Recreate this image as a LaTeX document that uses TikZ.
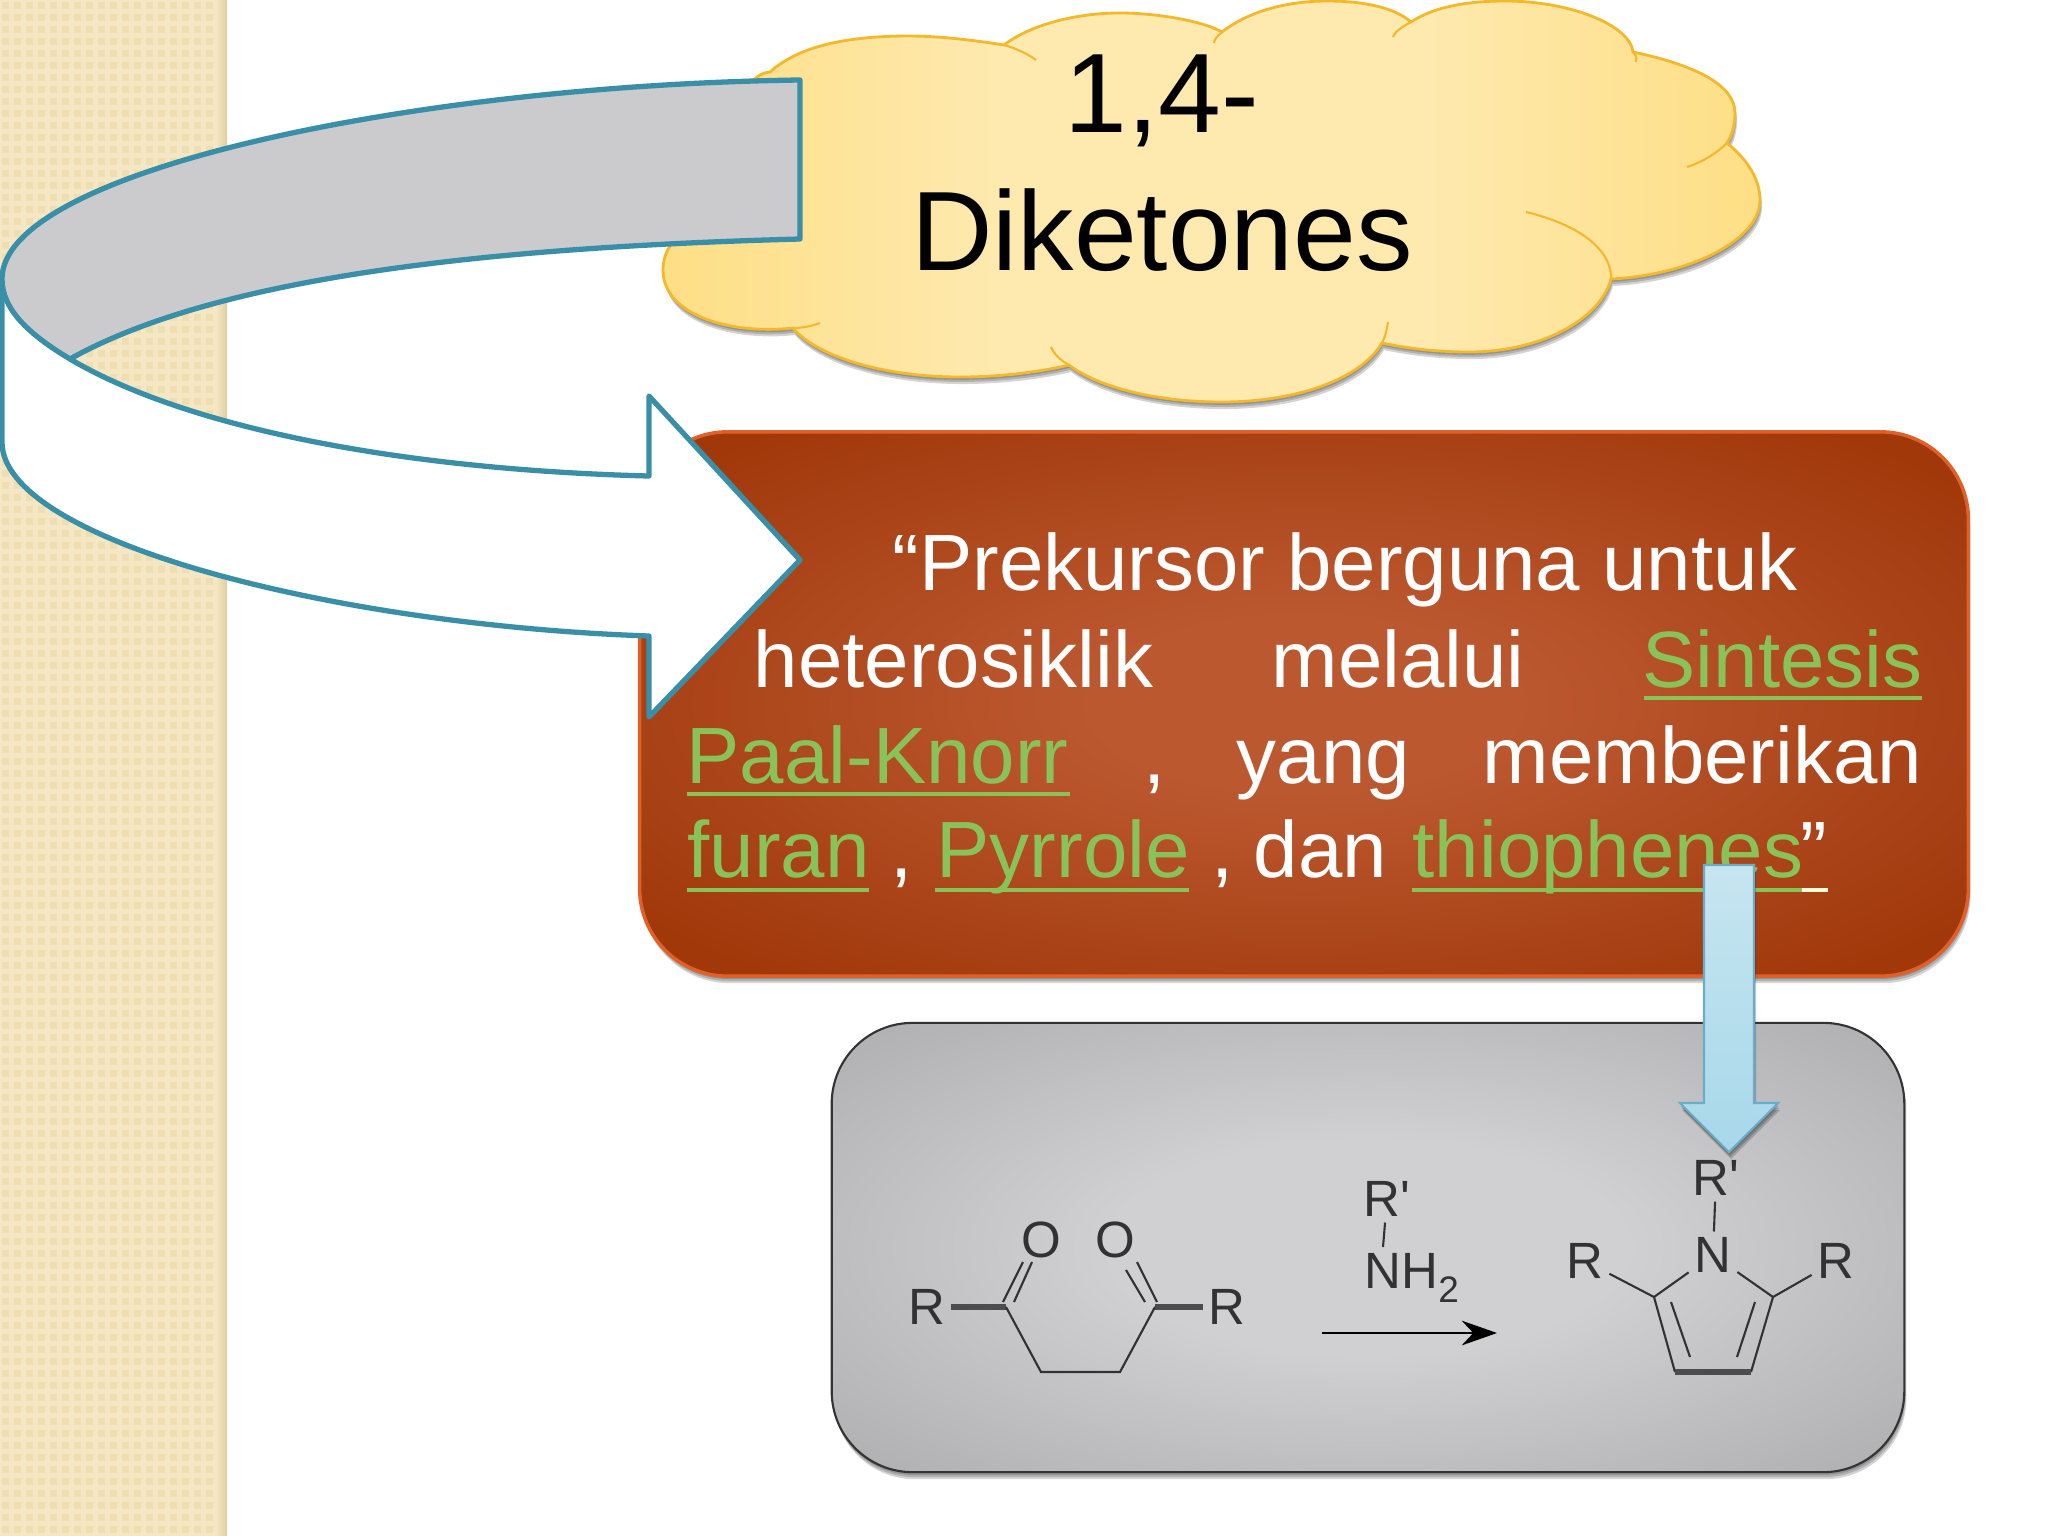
\documentclass[tikz,border=0pt]{standalone}
\usepackage{fontspec}
\setmainfont{Liberation Sans}
\usetikzlibrary{arrows.meta, shadows}
\definecolor{sidebase}{RGB}{245, 231, 195}
\definecolor{sidedot}{RGB}{238, 222, 178}
\definecolor{sideedge}{RGB}{222, 206, 162}
\definecolor{cloudedge}{RGB}{254, 223, 133}
\definecolor{cloudmid}{RGB}{254, 233, 174}
\definecolor{cloudline}{RGB}{244, 184, 44}
\definecolor{ribbon}{RGB}{58, 143, 168}
\definecolor{ribbongray}{RGB}{203, 203, 205}
\definecolor{redmid}{RGB}{188, 88, 48}
\definecolor{redout}{RGB}{160, 56, 10}
\definecolor{redline}{RGB}{226, 96, 40}
\definecolor{linkgreen}{RGB}{138, 194, 90}
\definecolor{graymid}{RGB}{208, 207, 210}
\definecolor{grayout}{RGB}{178, 177, 180}
\definecolor{bluetop}{RGB}{198, 229, 240}
\definecolor{bluelow}{RGB}{168, 216, 234}
\definecolor{blueline}{RGB}{104, 174, 200}
\definecolor{inkgray}{RGB}{50, 50, 50}
\pgfdeclarehorizontalshading{cloudglow}{100bp}{
  color(0bp)=(cloudedge); color(25bp)=(cloudedge); color(40bp)=(cloudmid); color(60bp)=(cloudmid); color(75bp)=(cloudedge); color(100bp)=(cloudedge)}
\pgfdeclareradialshading{redglow}{\pgfpoint{0bp}{0bp}}{
  color(0bp)=(redmid); color(8bp)=(redmid); color(32bp)=(redout); color(50bp)=(redout)}
\pgfdeclareradialshading{grayglow}{\pgfpoint{0bp}{0bp}}{
  color(0bp)=(graymid); color(12bp)=(graymid); color(33bp)=(grayout); color(50bp)=(grayout)}
\tikzset{
  softshadow/.style={
    drop shadow={shadow xshift=0.2pt, shadow yshift=-0.8pt, opacity=0.17, fill=black},
    drop shadow={shadow xshift=0.4pt, shadow yshift=-1.4pt, opacity=0.17, fill=black},
    drop shadow={shadow xshift=0.6pt, shadow yshift=-2pt, opacity=0.17, fill=black}},
  redword/.style={anchor=base west, inner sep=0pt, text=white, font=\fontsize{22.7}{27}\selectfont},
  greenword/.style={redword, text=linkgreen},
  linkline/.style={linkgreen, line width=1.3pt},
  ribbonline/.style={ribbon, line width=1.5pt, line join=round},
  atom/.style={inner sep=1.5pt, text=inkgray, font=\fontsize{14.5}{17}\selectfont},
  bond/.style={inkgray, line width=0.6pt},
  heavybond/.style={gray!60!black, line width=1.5pt},
  cloudarc/.style={cloudline, line width=0.6pt}
}
\begin{document}
\begin{tikzpicture}[x=0.01cm, y=-0.01cm]
  \useasboundingbox (0,0) rectangle (2048,1536);

  % Sidebar
  \fill[sidebase] (0,0) rectangle (227,1536);
  \foreach \row in {0,...,127} {
    \foreach \col in {0,...,18} {
      \fill[sidedot] (\col*12+2, \row*12+2) rectangle +(7,7);
    }
  }
  \shade[left color=sidebase, right color=sideedge] (216,0) rectangle (227,1536);

  % Cloud
  \path[shading=cloudglow, draw=cloudline, line width=0.8pt, softshadow]
    (793,328) .. controls (730,335) and (663,315) .. (663,270)
    .. controls (663,235) and (700,215) .. (760,205)
    .. controls (730,170) and (730,75) .. (770,72)
    .. controls (800,45) and (850,36) .. (909,36)
    .. controls (945,36) and (985,42) .. (1004,45)
    .. controls (1030,25) and (1075,13) .. (1120,13)
    .. controls (1160,13) and (1205,22) .. (1222,32)
    .. controls (1250,10) and (1290,1) .. (1327,1)
    .. controls (1365,1) and (1395,8) .. (1411,22)
    .. controls (1435,6) and (1470,1) .. (1505,1)
    .. controls (1570,1) and (1630,25) .. (1633,52)
    .. controls (1695,65) and (1735,85) .. (1735,113)
    .. controls (1735,125) and (1732,135) .. (1727,143)
    .. controls (1748,160) and (1760,180) .. (1760,200)
    .. controls (1760,240) and (1690,275) .. (1611,279)
    .. controls (1600,320) and (1540,352) .. (1469,352)
    .. controls (1435,352) and (1405,348) .. (1382,343)
    .. controls (1360,380) and (1295,402) .. (1222,402)
    .. controls (1150,402) and (1095,385) .. (1069,365)
    .. controls (1040,372) and (1000,377) .. (960,377)
    .. controls (880,377) and (815,355) .. (793,328) -- cycle;
  \draw[cloudarc] (1004,45) .. controls (1015,48) and (1028,54) .. (1036,60);
  \draw[cloudarc] (1222,32) .. controls (1217,36) and (1214,40) .. (1214,43);
  \draw[cloudarc] (1411,22) .. controls (1400,28) and (1395,32) .. (1393,37);
  \draw[cloudarc] (1633,52) .. controls (1636,55) and (1637,58) .. (1636,62);
  \draw[cloudarc] (1727,143) .. controls (1718,152) and (1703,162) .. (1687,167);
  \draw[cloudarc] (1526,212) .. controls (1580,225) and (1612,250) .. (1611,279);
  \draw[cloudarc] (1382,343) .. controls (1386,335) and (1387,328) .. (1388,322);
  \draw[cloudarc] (1069,365) .. controls (1060,360) and (1054,354) .. (1051,347);
  \draw[cloudarc] (793,328) .. controls (803,328) and (812,326) .. (820,323);
  \node[font=\fontsize{32.1}{39.3}\selectfont, align=center, inner sep=0pt] (cloudtext) at (1162,163) {1,4-\\Diketones};

  % Red box
  \node[rounded corners=25pt, minimum width=13.28cm, minimum height=5.44cm, inner sep=0pt, draw=redline, line width=1pt, shading=redglow, softshadow] (redbox) at (1304,704) {};

  % Red box text
  \node[redword] (wprek) at (892,590) {“Prekursor berguna untuk};
  \node[redword] (whetero) at (753,687) {heterosiklik};
  \node[redword] (wmelalui) at (1271,687) {melalui};
  \node[greenword] (wsintesis) at (1642,687) {Sintesis};
  \node[greenword] (wpaal) at (686,783) {Paal-Knorr};
  \node[redword] (wcomma) at (1143,783) {,};
  \node[redword] (wyang) at (1236,783) {yang};
  \node[redword] (wmember) at (1482,783) {memberikan};
  \node[greenword] (wfuran) at (687,877) {furan};
  \node[redword] (wcommb) at (890,877) {,};
  \node[greenword] (wpyrrole) at (936,877) {Pyrrole};
  \node[redword] (wcommc) at (1211,877) {,};
  \node[redword] (wdan) at (1253,877) {dan};
  \node[greenword] (wthio) at (1412,877) {thiophenes};
  \node[redword] (wquote) at (1800,877) {”};
  \draw[linkline] (1644,698) -- (1922,698);
  \draw[linkline] (687,794) -- (1070,794);
  \draw[linkline] (687,890) -- (869,890);
  \draw[linkline] (935,890) -- (1189,890);
  \draw[linkline] (1412,890) -- (1802,890);
  \draw[white!85!yellow, line width=1.3pt] (1802,890) -- (1828,890);

  % Gray box
  \node[rounded corners=23pt, minimum width=10.72cm, minimum height=4.49cm, inner sep=0pt, draw=black!80, line width=0.6pt, shading=grayglow, softshadow] (graybox) at (1368,1247.5) {};

  % Left molecule
  \coordinate (cone) at (1006,1307);
  \coordinate (ctwo) at (1155,1307);
  \coordinate (cthree) at (1041,1372);
  \coordinate (cfour) at (1120,1372);
  \coordinate (bonea) at (1003,1302);
  \coordinate (boneb) at (1014,1302);
  \coordinate (ttwoa) at (1157,1302);
  \coordinate (ttwob) at (1145,1302);
  \coordinate (eonea) at (1023,1262);
  \coordinate (eoneb) at (1032,1262);
  \coordinate (etwoa) at (1137,1262);
  \coordinate (etwob) at (1126,1270);
  \node[atom] (rleft) at (927,1307) {R};
  \node[atom] (rright) at (1227,1307) {R};
  \node[atom] (oone) at (1041,1240) {O};
  \node[atom] (otwo) at (1115,1240) {O};
  \draw[heavybond] (rleft) -- (cone);
  \draw[heavybond] (ctwo) -- (rright);
  \draw[bond] (bonea) -- (eonea);
  \draw[bond] (boneb) -- (eoneb);
  \draw[bond] (ttwoa) -- (etwoa);
  \draw[bond] (ttwob) -- (etwob);
  \draw[bond] (cone) -- (cthree) -- (cfour) -- (ctwo);

  % Reagent
  \node[atom] (rprime) at (1387,1199) {R\textquotesingle};
  \node[atom, anchor=base west, inner sep=0pt] (amine) at (1364,1288) {NH{\fontsize{10.5}{12}\selectfont\raisebox{-4pt}{2}}};
  \coordinate (aminetop) at (1383,1247);
  \coordinate (arrowa) at (1322,1333);
  \coordinate (arrowb) at (1497,1333);
  \draw[bond] (rprime) -- (aminetop);
  \draw[black, line width=0.8pt, -{Stealth[length=10pt, width=7pt]}] (arrowa) -- (arrowb);

  % Product molecule
  \coordinate (ringl) at (1654,1297);
  \coordinate (ringr) at (1773,1297);
  \coordinate (ringbl) at (1675,1372);
  \coordinate (ringbr) at (1751,1372);
  \coordinate (innla) at (1671,1302);
  \coordinate (innlb) at (1690,1357);
  \coordinate (innra) at (1755,1302);
  \coordinate (innrb) at (1737,1357);
  \node[atom] (rtop) at (1716,1178) {R\textquotesingle};
  \node[atom] (nitro) at (1713,1255) {N};
  \node[atom] (rprodl) at (1585,1261) {R};
  \node[atom] (rprodr) at (1836,1261) {R};
  \draw[bond] (rtop) -- (nitro);
  \draw[bond] (nitro) -- (ringl) -- (ringbl);
  \draw[bond] (nitro) -- (ringr) -- (ringbr);
  \draw[bond] (rprodl) -- (ringl);
  \draw[bond] (rprodr) -- (ringr);
  \draw[bond] (innla) -- (innlb);
  \draw[bond] (innra) -- (innrb);
  \draw[heavybond] (ringbl) -- (ringbr);

  % Blue arrow
  \shadedraw[top color=bluetop, bottom color=bluelow, draw=blueline, line width=0.6pt, line join=miter, softshadow]
    (1704,865) -- (1754,865) -- (1754,1103) -- (1778,1103) -- (1729,1152) -- (1680,1103) -- (1704,1103) -- cycle;

  % Curved arrow
  \fill[white] (70,359) .. controls (190,430) and (410,470) .. (649,476) -- (649,396) -- (800,560) -- (649,717) -- (649,636) .. controls (330,625) and (2,540) .. (2,442) -- (2,279) .. controls (2,310) and (30,335) .. (70,359) -- cycle;
  \draw[ribbonline] (70,359) .. controls (190,430) and (410,470) .. (649,476) -- (649,396) -- (800,560) -- (649,717) -- (649,636) .. controls (330,625) and (2,540) .. (2,442) -- (2,279);
  \filldraw[ribbonline, fill=ribbongray] (800,80) .. controls (420,85) and (2,170) .. (2,279) .. controls (2,310) and (30,335) .. (70,359) .. controls (220,275) and (500,247) .. (800,239) -- cycle;
\end{tikzpicture}
\end{document}
